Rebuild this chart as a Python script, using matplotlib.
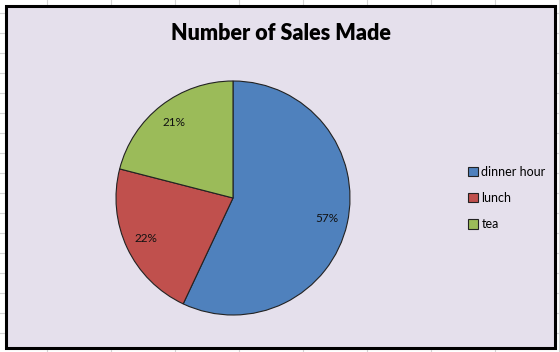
import matplotlib
matplotlib.use('Agg')
import matplotlib.pyplot as plt
from matplotlib.patches import Rectangle
from matplotlib.lines import Line2D

categories = ["dinner hour", "lunch", "tea"]
sales = [57, 22, 21]
colors = ["#4F81BD", "#C0504D", "#9BBB59"]
title = "Number of Sales Made"

W, H = 560, 352
fig = plt.figure(figsize=(W / 100, H / 100), dpi=100)
fig.patch.set_facecolor("white")

# spreadsheet gridlines behind the chart
for x in range(47, W, 64):
    fig.add_artist(Line2D([x / W, x / W], [0, 1], color="#D4D4D4", lw=0.8, zorder=0))
for y in range(13, H, 20):
    fig.add_artist(Line2D([0, 1], [1 - y / H, 1 - y / H], color="#D4D4D4", lw=0.8, zorder=0))

# chart area
fig.add_artist(Rectangle((6 / W, 4 / H), 549 / W, 342 / H, transform=fig.transFigure,
                         facecolor="#E5E0EC", edgecolor="black", lw=2.2, zorder=1))

cx, cy, r = 233, 198, 117
ax = fig.add_axes([(cx - r) / W, (H - cy - r) / H, 2 * r / W, 2 * r / H], zorder=2)
wedges, texts, autotexts = ax.pie(
    sales, colors=colors, startangle=90, counterclock=False,
    autopct=lambda p: "{:.0f}%".format(p), pctdistance=0.82,
    wedgeprops=dict(edgecolor="#222222", linewidth=0.8),
    textprops=dict(fontsize=8.5, color="#111111", family="Lato"))
ax.set_xlim(-1.0, 1.0)
ax.set_ylim(-1.0, 1.0)
ax.set_aspect("equal")
ax.axis("off")

fig.text(281 / W, 1 - 33 / H, title, ha="center", va="center",
         fontsize=15.5, fontweight="heavy", family="Lato", zorder=3)

leg = fig.legend(wedges, categories, loc="center left",
                 bbox_to_anchor=(457 / W, 1 - 198 / H), frameon=False,
                 prop=dict(family="Lato", size=9), handlelength=0.75,
                 handleheight=0.75, handletextpad=0.3, labelspacing=1.15)
leg.set_zorder(3)

fig.savefig("out.png", dpi=100, facecolor=fig.get_facecolor())
